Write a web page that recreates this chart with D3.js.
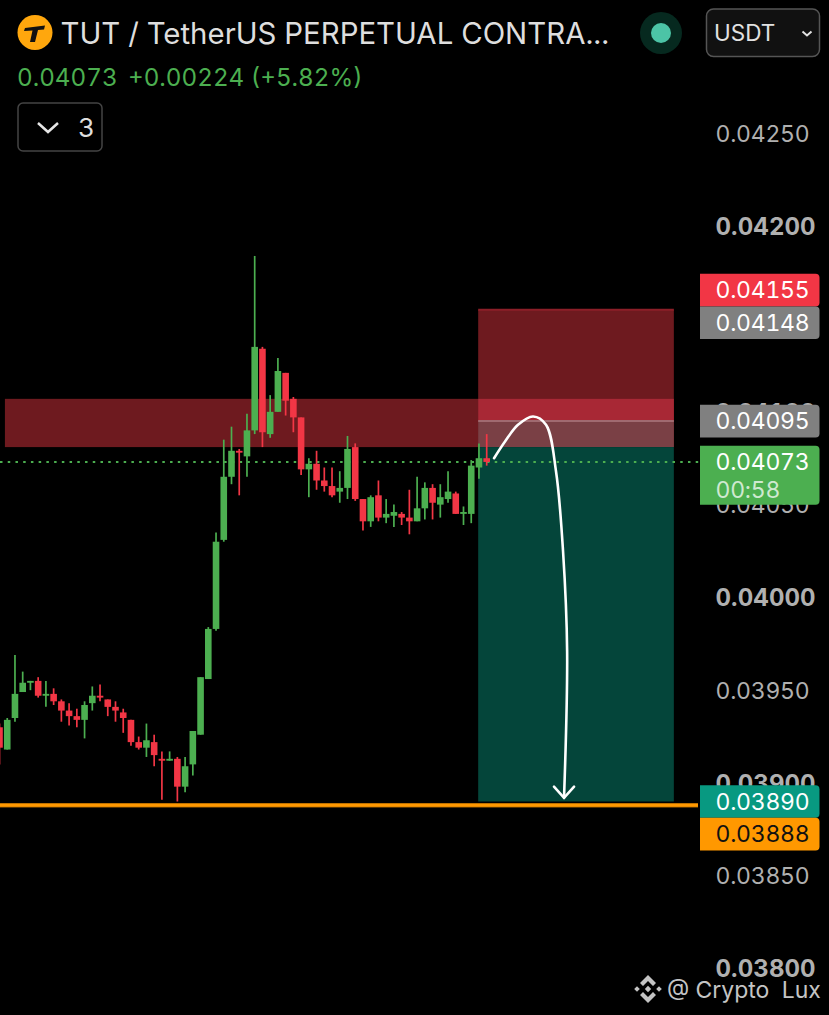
<!DOCTYPE html>
<html>
<head>
<meta charset="utf-8">
<script src="https://cdn.jsdelivr.net/npm/d3@7"></script>
<style>
    html, body { margin: 0; background: #000; }
    svg { display: block; }
    text { font-family: Inter, "Noto Sans", sans-serif; font-variant-numeric: tabular-nums; }
</style>
</head>
<body>
<div id="chart"></div>
<script>
// candles, oldest first
var opens = [
    0.03930, 0.03918, 0.03935, 0.03949, 0.03954, 0.03955, 0.03947, 0.03948, 0.03944, 0.03939,
    0.03936, 0.03934, 0.03943, 0.03947, 0.03945, 0.03941, 0.03938, 0.03934, 0.03922, 0.03919,
    0.03922, 0.03913, 0.03912, 0.03913, 0.03898, 0.03910, 0.03926, 0.03956, 0.03983, 0.04031,
    0.04065, 0.04079, 0.04076, 0.04090, 0.04134, 0.04088, 0.04100, 0.04121, 0.04107, 0.04097,
    0.04069, 0.04072, 0.04063, 0.04060, 0.04057, 0.04059, 0.04081, 0.04053, 0.04041, 0.04055,
    0.04043, 0.04044, 0.04045, 0.04043, 0.04041, 0.04048, 0.04059, 0.04050, 0.04053, 0.04056,
    0.04045, 0.04045, 0.04070, 0.04075];
var highs = [
    0.03932, 0.03935, 0.03969, 0.03960, 0.03955, 0.03957, 0.03955, 0.03951, 0.03945, 0.03943,
    0.03940, 0.03944, 0.03952, 0.03953, 0.03945, 0.03944, 0.03940, 0.03934, 0.03925, 0.03932,
    0.03926, 0.03917, 0.03917, 0.03914, 0.03914, 0.03928, 0.03957, 0.03984, 0.04035, 0.04085,
    0.04092, 0.04080, 0.04099, 0.04184, 0.04135, 0.04109, 0.04129, 0.04121, 0.04108, 0.04097,
    0.04075, 0.04079, 0.04070, 0.04070, 0.04068, 0.04087, 0.04083, 0.04053, 0.04055, 0.04063,
    0.04053, 0.04050, 0.04046, 0.04058, 0.04065, 0.04062, 0.04061, 0.04061, 0.04068, 0.04057,
    0.04049, 0.04074, 0.04083, 0.04088];
var lows = [
    0.03910, 0.03918, 0.03933, 0.03949, 0.03950, 0.03946, 0.03941, 0.03942, 0.03933, 0.03931,
    0.03930, 0.03924, 0.03939, 0.03944, 0.03936, 0.03933, 0.03927, 0.03920, 0.03918, 0.03914,
    0.03909, 0.03891, 0.03912, 0.03890, 0.03895, 0.03904, 0.03926, 0.03956, 0.03982, 0.04030,
    0.04061, 0.04055, 0.04065, 0.04088, 0.04081, 0.04086, 0.04100, 0.04098, 0.04089, 0.04066,
    0.04054, 0.04058, 0.04057, 0.04054, 0.04051, 0.04053, 0.04052, 0.04036, 0.04038, 0.04041,
    0.04040, 0.04038, 0.04039, 0.04034, 0.04041, 0.04042, 0.04042, 0.04043, 0.04051, 0.04045,
    0.04039, 0.04040, 0.04064, 0.04071];
var closes = [
    0.03919, 0.03934, 0.03948, 0.03954, 0.03955, 0.03947, 0.03948, 0.03944, 0.03939, 0.03936,
    0.03934, 0.03942, 0.03947, 0.03946, 0.03941, 0.03939, 0.03935, 0.03922, 0.03919, 0.03923,
    0.03915, 0.03912, 0.03913, 0.03898, 0.03909, 0.03928, 0.03957, 0.03983, 0.04030, 0.04065,
    0.04079, 0.04078, 0.04090, 0.04135, 0.04089, 0.04100, 0.04122, 0.04106, 0.04097, 0.04069,
    0.04072, 0.04063, 0.04060, 0.04055, 0.04059, 0.04080, 0.04053, 0.04041, 0.04054, 0.04043,
    0.04045, 0.04046, 0.04043, 0.04041, 0.04048, 0.04059, 0.04051, 0.04054, 0.04057, 0.04045,
    0.04046, 0.04071, 0.04075, 0.04073];

// price axis
var tickPrices = [0.0425, 0.042, 0.0415, 0.041, 0.0405, 0.04, 0.0395, 0.039, 0.0385, 0.038];
var boldTicks = [0.042, 0.041, 0.04, 0.039, 0.038];

// drawn levels
var zonePrices = [0.04107, 0.04081];
var stopPrice = 0.04155;
var entryPrice = 0.04081;
var targetPrice = 0.0389;
var midPrice = 0.04095;
var lastPrice = 0.04073;
var orangePrice = 0.03888;

// hand drawn arrow, bar index and price
var arrowBars = [63.95, 65.37, 67.05, 69.0, 70.67, 71.96, 72.87, 73.4, 73.0];
var arrowPrices = [0.04075, 0.04084, 0.04093, 0.040975, 0.04093, 0.04068, 0.04025, 0.03971, 0.03892];
var headBars = [71.7, 73.0, 74.3];
var headPrices = [0.03898, 0.03892, 0.03898];

// price tags on the right
var tagPrices = [0.04155, 0.04148, 0.04095, 0.04073, 0.0389, 0.03888];
var tagFills = ["#f23645", "#808080", "#808080", "#4caf50", "#089981", "#ff9800"];
var tagTexts = ["#fff", "#fff", "#fff", "#fff", "#fff", "#111"];

var width = 829, height = 1015;
var green = "#4caf50", red = "#f23645";

var svg = d3.select("#chart").append("svg")
    .attr("width", width)
    .attr("height", height);

svg.append("rect").attr("width", width).attr("height", height).attr("fill", "#000");

var x = d3.scaleLinear().domain([0, 63]).range([-0.5, 486.7]);
var y = d3.scaleLinear().domain([0.038, 0.0425]).range([968.5, 133.5]);

var fmt = d3.format(".5f");
var boxLeft = x(61.9), boxRight = x(87.2);

// Price axis labels
var axis = svg.append("g")
    .attr("transform", "translate(715.5,0.5)")
    .call(d3.axisRight(y).tickValues(tickPrices).tickSize(0).tickPadding(0).tickFormat(fmt));
axis.select(".domain").remove();
axis.selectAll("text")
    .attr("font-size", d => boldTicks.includes(d) ? 24 : 23)
    .attr("letter-spacing", d => boldTicks.includes(d) ? 0.1 : -0.25)
    .attr("font-weight", d => boldTicks.includes(d) ? 700 : 400)
    .attr("fill", "#b0b0b0");

// Zone and long/short tool
svg.append("rect")
    .attr("x", x(0.7)).attr("y", y(zonePrices[0]))
    .attr("width", boxLeft - x(0.7)).attr("height", y(zonePrices[1]) - y(zonePrices[0]))
    .attr("fill", "#6e1a1f");
svg.append("rect")
    .attr("x", boxLeft).attr("y", y(stopPrice))
    .attr("width", boxRight - boxLeft).attr("height", y(entryPrice) - y(stopPrice))
    .attr("fill", "#6e1a1f");
svg.append("line")
    .attr("x1", boxLeft).attr("x2", boxRight)
    .attr("y1", y(stopPrice)).attr("y2", y(stopPrice))
    .attr("stroke", "#8c1f28").attr("stroke-width", 2);
svg.append("rect")
    .attr("x", boxLeft).attr("y", y(zonePrices[0]))
    .attr("width", boxRight - boxLeft).attr("height", y(midPrice) - y(zonePrices[0]))
    .attr("fill", "#a82835");
svg.append("rect")
    .attr("x", boxLeft).attr("y", y(midPrice))
    .attr("width", boxRight - boxLeft).attr("height", y(zonePrices[1]) - y(midPrice))
    .attr("fill", "#7a4045");
svg.append("line")
    .attr("x1", boxLeft).attr("x2", boxRight)
    .attr("y1", y(midPrice)).attr("y2", y(midPrice))
    .attr("stroke", "#a06a70").attr("stroke-width", 2);
svg.append("rect")
    .attr("x", boxLeft).attr("y", y(entryPrice))
    .attr("width", boxRight - boxLeft).attr("height", y(targetPrice) - y(entryPrice))
    .attr("fill", "#04453a");

// Last price dotted line
svg.append("line")
    .attr("x1", 0).attr("x2", 700)
    .attr("y1", y(lastPrice)).attr("y2", y(lastPrice))
    .attr("stroke", green).attr("stroke-width", 2)
    .attr("stroke-dasharray", "2.5 5.23");

// Orange level, darker edge round a bright core
svg.append("line")
    .attr("x1", 0).attr("x2", 698)
    .attr("y1", y(orangePrice)).attr("y2", y(orangePrice))
    .attr("stroke", "#a86500").attr("stroke-width", 4.5);
svg.append("line")
    .attr("x1", 0).attr("x2", 698)
    .attr("y1", y(orangePrice)).attr("y2", y(orangePrice))
    .attr("stroke", "#ff9800").attr("stroke-width", 3);

// Candles
var candles = opens.map(function (o, i) {
    return {i: i, o: o, h: highs[i], l: lows[i], c: closes[i]};
});
function colour(d) {
    return d.c >= d.o ? green : red;
}

svg.selectAll(".wick")
    .data(candles)
    .join("line")
    .attr("class", "wick")
    .attr("x1", d => x(d.i)).attr("x2", d => x(d.i))
    .attr("y1", d => y(d.h)).attr("y2", d => y(d.l))
    .attr("stroke", colour)
    .attr("stroke-width", 1.7);

// dojis still need a visible body
svg.selectAll(".body")
    .data(candles)
    .join("rect")
    .attr("class", "body")
    .attr("x", d => x(d.i) - 3.3)
    .attr("width", 6.6)
    .attr("y", d => y(Math.max(d.o, d.c)))
    .attr("height", d => Math.max(1.7, Math.abs(y(d.o) - y(d.c))))
    .attr("fill", colour);

// Arrow
var arrowLine = d3.line()
    .x(d => x(d[0]))
    .y(d => y(d[1]))
    .curve(d3.curveCatmullRom);

svg.append("path")
    .attr("d", arrowLine(arrowBars.map((b, i) => [b, arrowPrices[i]])))
    .attr("fill", "none")
    .attr("stroke", "#fff")
    .attr("stroke-width", 2.6)
    .attr("stroke-linecap", "round");

svg.append("path")
    .attr("d", d3.line().x(d => x(d[0])).y(d => y(d[1]))(headBars.map((b, i) => [b, headPrices[i]])))
    .attr("fill", "none")
    .attr("stroke", "#fff")
    .attr("stroke-width", 2.6)
    .attr("stroke-linecap", "round");

// Price tags. Tags that would collide get stacked against their neighbour
var tagH = 32.6;
function tagCentre(i) {
    if (i === 0) return y(tagPrices[1]) - tagH;
    if (i === 5) return y(tagPrices[4]) + tagH;
    return y(tagPrices[i]);
}
function tagPath(top, h) {
    var l = 700, r = 819.5, c = 4;
    return `M${l},${top}H${r - c}Q${r},${top} ${r},${top + c}V${top + h - c}Q${r},${top + h} ${r - c},${top + h}H${l}Z`;
}

var tags = svg.selectAll(".tag")
    .data(tagPrices)
    .join("g")
    .attr("class", "tag");

tags.append("path")
    .attr("d", function (d, i) {
        var top = tagCentre(i) - tagH / 2;
        return tagPath(top, i === 3 ? 59 : tagH);
    })
    .attr("fill", (d, i) => tagFills[i]);

tags.append("text")
    .attr("x", 715.5)
    .attr("y", (d, i) => tagCentre(i))
    .attr("dy", "0.36em")
    .attr("font-size", 23)
    .attr("letter-spacing", -0.25)
    .attr("fill", (d, i) => tagTexts[i])
    .text(d => fmt(d));

svg.append("text")
    .attr("x", 715.5)
    .attr("y", tagCentre(3) + 28)
    .attr("dy", "0.36em")
    .attr("font-size", 23)
    .attr("letter-spacing", -0.25)
    .attr("fill", "#cfe9d0")
    .text("00:58");

// Header
svg.append("circle").attr("cx", 35).attr("cy", 32.5).attr("r", 17.5).attr("fill", "#ffa70d");
svg.append("path")
    .attr("d", "M25,28L45,25.5L44,29.5L38,30L35,42L30,42L32.5,30.5L24,31Z")
    .attr("fill", "#111");

svg.append("text")
    .attr("x", 60.5).attr("y", 44)
    .attr("font-size", 29.4)
    .attr("fill", "#dedede")
    .text("TUT / TetherUS PERPETUAL CONTRA...");

svg.append("text")
    .attr("x", 17).attr("y", 86)
    .attr("font-size", 24.2)
    .attr("fill", green)
    .text("0.04073");
svg.append("text")
    .attr("x", 128).attr("y", 86)
    .attr("font-size", 24.2)
    .attr("fill", green)
    .text("+0.00224 (+5.82%)");

// Collapse button
svg.append("rect")
    .attr("x", 18).attr("y", 103).attr("width", 84).attr("height", 48).attr("rx", 5)
    .attr("fill", "#000").attr("stroke", "#444").attr("stroke-width", 1.5);
svg.append("path")
    .attr("d", "M38,123L48,132L58,123")
    .attr("fill", "none").attr("stroke", "#e6e6e6").attr("stroke-width", 2.5);
svg.append("text")
    .attr("x", 78).attr("y", 137)
    .attr("font-size", 26).attr("fill", "#dedede")
    .text("3");

// Status dot
svg.append("circle").attr("cx", 661).attr("cy", 33).attr("r", 21).attr("fill", "#06291f");
svg.append("circle").attr("cx", 661).attr("cy", 33).attr("r", 10).attr("fill", "#4cc4a6");

// Currency selector
svg.append("rect")
    .attr("x", 706.5).attr("y", 9).attr("width", 113).attr("height", 47.5).attr("rx", 7)
    .attr("fill", "#111").attr("stroke", "#555").attr("stroke-width", 1.5);
svg.append("text")
    .attr("x", 714).attr("y", 41)
    .attr("font-size", 22.5).attr("fill", "#e2e2e2")
    .text("USDT");
svg.append("path")
    .attr("d", "M802.5,31.5L807,35.5L811.5,31.5")
    .attr("fill", "none").attr("stroke", "#e2e2e2").attr("stroke-width", 2);

// Watermark logo
var wm = svg.append("g").attr("fill", "#c4c4c4").attr("transform", "translate(648,989)");
wm.append("path").attr("d", "M0,-14L8,-6L5,-3L0,-8L-5,-3L-8,-6Z");
wm.append("path").attr("d", "M0,14L8,6L5,3L0,8L-5,3L-8,6Z");
wm.append("path").attr("d", "M0,-3.2L3.2,0L0,3.2L-3.2,0Z");
wm.append("path").attr("d", "M-11,-2.8L-8.2,0L-11,2.8L-13.8,0Z");
wm.append("path").attr("d", "M11,-2.8L13.8,0L11,2.8L8.2,0Z");

svg.append("text")
    .attr("x", 667).attr("y", 998)
    .attr("font-size", 23)
    .attr("fill", "#c4c4c4")
    .attr("xml:space", "preserve")
    .text("@ Crypto  Lux");
</script>
</body>
</html>
